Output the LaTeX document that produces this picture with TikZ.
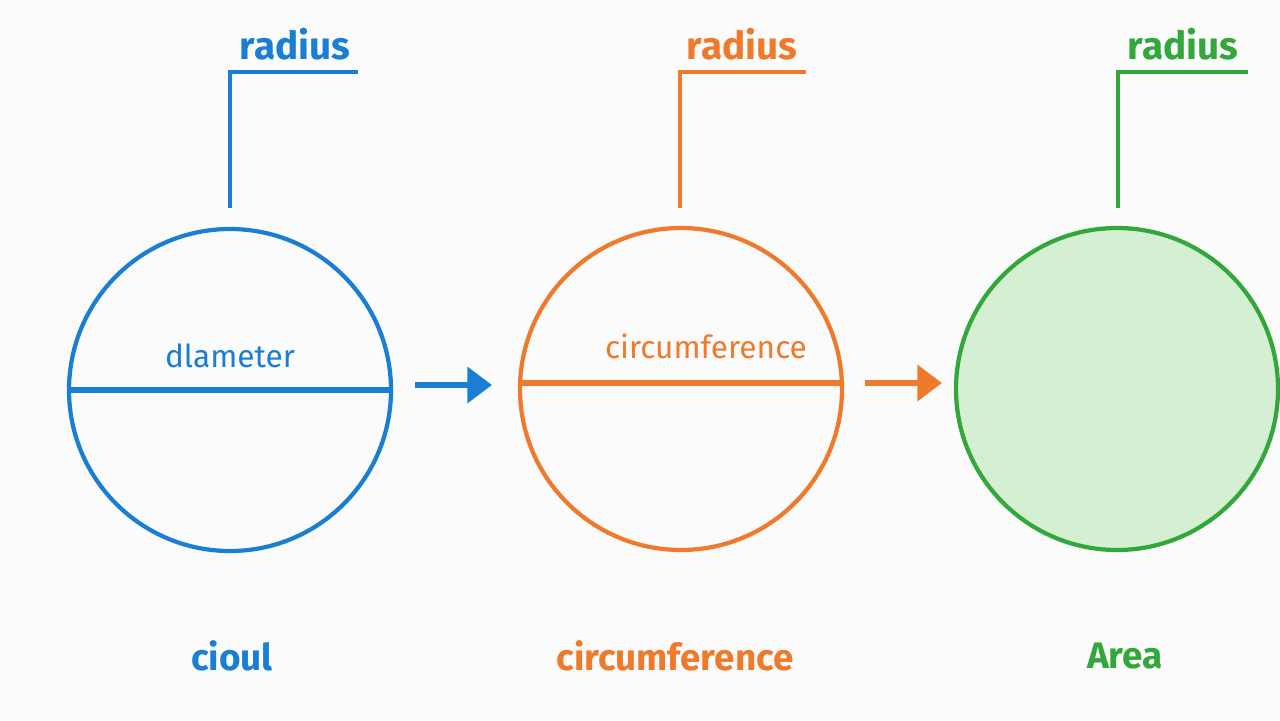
\documentclass[tikz,border=0pt]{standalone}
\usepackage{fontspec}
\setmainfont{Fira Sans}
\usetikzlibrary{arrows.meta}
\definecolor{cb}{HTML}{1A7FD4}
\definecolor{co}{HTML}{EF7A2C}
\definecolor{cg}{HTML}{32A83C}
\definecolor{cgf}{HTML}{D5EFD2}
\begin{document}
\begin{tikzpicture}[x=0.02cm,y=-0.02cm,
 circ/.style={draw,line width=2.4pt,circle,minimum size=322*0.02cm,inner sep=0},
 lead/.style={line width=2pt},
 bar/.style={line width=3.4pt},
 arr/.style={line width=3.4pt,-{Triangle[length=14pt,width=20pt]}},
 top/.style={font=\fontsize{22}{24}\selectfont\bfseries},
 mid/.style={font=\fontsize{18}{20}\selectfont},
 bot/.style={font=\fontsize{21}{24}\selectfont\bfseries}]
\fill[white!97!gray] (0,0) rectangle (1280,720);
\useasboundingbox (0,0) rectangle (1280,720);
% blue
\node[circ,cb] (c1) at (230,390) {};
\coordinate (b1) at (230,208); \coordinate (b2) at (230,72); \coordinate (b3) at (358,72);
\draw[lead,cb] (b1)--(b2)--(b3);
\node[top,text=cb] (r1) at (295,44) {radius};
\draw[bar,cb] (c1.west)--(c1.east);
\node[mid,text=cb] (d1) at (230,356) {dlameter};
\coordinate (a1s) at (415,385); \coordinate (a1e) at (492,385);
\draw[arr,cb] (a1s)--(a1e);
\node[bot,text=cb] (t1) at (232,656) {cioul};
% orange
\node[circ,co] (c2) at (681,389) {};
\coordinate (o1) at (680,208); \coordinate (o2) at (680,72); \coordinate (o3) at (806,72);
\draw[lead,co] (o1)--(o2)--(o3);
\node[top,text=co] (r2) at (742,44) {radius};
\draw[bar,co] ([yshift=0.12cm]c2.west)--([yshift=0.12cm]c2.east);
\node[mid,text=co] (d2) at (706,346) {circumference};
\coordinate (a2s) at (865,383); \coordinate (a2e) at (942,383);
\draw[arr,co] (a2s)--(a2e);
\node[bot,text=co] (t2) at (675,656) {circumference};
% green
\node[circ,cg,fill=cgf] (c3) at (1117,389) {};
\coordinate (g1) at (1118,208); \coordinate (g2) at (1118,72); \coordinate (g3) at (1248,72);
\draw[lead,cg] (g1)--(g2)--(g3);
\node[top,text=cg] (r3) at (1183,44) {radius};
\node[bot,text=cg] (t3) at (1125,656) {Area};
\end{tikzpicture}
\end{document}
